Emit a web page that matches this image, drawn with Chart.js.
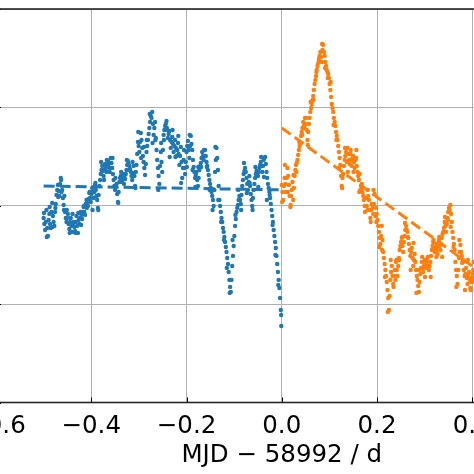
<!DOCTYPE html>
<html>
<head>
<meta charset="utf-8">
<script src="https://cdn.jsdelivr.net/npm/chart.js@4.4.1/dist/chart.umd.min.js"></script>
<style>
html,body{margin:0;padding:0;background:#fff;overflow:hidden;width:474px;height:474px;}
#wrap{position:absolute;left:-104px;top:0;width:700px;height:474px;}
</style>
</head>
<body>
<div id="wrap"><canvas id="c" width="700" height="474" style="width:700px;height:474px"></canvas></div>
<script>
// ---- data (time in MJD - 58992 [d], flux in arbitrary units) ----
const xTicks = [-0.6, -0.4, -0.2, 0.0, 0.2, 0.4, 0.6];
const yTicks = [0, 100, 200, 300, 400];
const xLabel = 'MJD − 58992 / d';

// blue light curve (before t = 0), exposures A
const blueT = [
-0.500,-0.497,-0.494,-0.491,-0.488,-0.485,-0.482,-0.479,-0.476,-0.473,
-0.470,-0.467,-0.464,-0.461,-0.458,-0.455,-0.452,-0.449,-0.446,-0.443,
-0.440,-0.437,-0.434,-0.431,-0.428,-0.425,-0.422,-0.419,-0.416,-0.413,
-0.410,-0.407,-0.404,-0.401,-0.398,-0.395,-0.392,-0.389,-0.386,-0.383,
-0.380,-0.377,-0.374,-0.371,-0.368,-0.365,-0.362,-0.359,-0.356,-0.353,
-0.350,-0.347,-0.344,-0.341,-0.338,-0.335,-0.332,-0.329,-0.326,-0.323,
-0.320,-0.317,-0.314,-0.311,-0.308,-0.305,-0.302,-0.299,-0.296,-0.293,
-0.290,-0.287,-0.284,-0.281,-0.278,-0.275,-0.272,-0.269,-0.266,-0.263,
-0.260,-0.257,-0.254,-0.251,-0.248,-0.245,-0.242,-0.239,-0.236,-0.233,
-0.230,-0.227,-0.224,-0.221,-0.218,-0.215,-0.212,-0.209,-0.206,-0.203,
-0.200,-0.197,-0.194,-0.191,-0.188,-0.185,-0.182,-0.179,-0.176,-0.173,
-0.170,-0.167,-0.164,-0.161,-0.158,-0.155,-0.152,-0.149,-0.146,-0.143,
-0.140,-0.137,-0.134,-0.131,-0.128,-0.125,-0.122,-0.119,-0.116,-0.113,
-0.110,-0.107,-0.104,-0.101,-0.098,-0.095,-0.092,-0.089,-0.086,-0.083,
-0.080,-0.077,-0.074,-0.071,-0.068,-0.065,-0.062,-0.059,-0.056,-0.053,
-0.050,-0.047,-0.044,-0.041,-0.038,-0.035,-0.032,-0.029,-0.026,-0.023,
-0.020,-0.017,-0.014,-0.011,-0.008,-0.005,-0.002,-0.001];
const blueFlux = [
187.6,175.4,195.7,169.3,191.7,177.4,202.9,183.5,193.7,211.0,
221.1,210.0,228.3,216.1,200.8,193.7,183.5,191.7,176.4,187.6,
173.4,183.5,174.4,189.6,172.4,181.5,193.7,186.6,198.8,190.7,
205.9,199.8,213.0,203.9,218.1,207.9,221.1,210.0,197.8,220.1,
232.3,240.5,230.3,242.5,234.4,245.5,238.4,248.6,238.4,226.2,
216.1,222.2,203.9,224.2,230.3,224.2,232.3,227.2,236.4,245.5,
240.5,234.4,226.2,240.5,220.1,241.5,264.9,254.7,274.0,258.8,
244.5,231.3,254.7,266.9,279.1,291.3,295.4,272.0,285.2,256.7,
238.4,222.2,254.7,234.4,272.0,281.1,286.2,268.9,276.0,258.8,
269.9,254.7,266.9,250.6,263.8,241.5,259.8,228.3,246.6,232.3,
254.7,265.9,248.6,271.0,256.7,239.4,228.3,234.4,220.1,236.4,
243.5,254.7,246.6,256.7,244.5,236.4,226.2,218.1,210.0,199.8,
234.4,258.8,236.4,205.9,193.7,183.5,173.4,163.2,153.0,140.8,
124.6,112.4,138.8,159.1,179.5,193.7,200.8,210.0,201.8,220.1,
232.3,238.4,228.3,216.1,230.3,212.0,199.8,216.1,228.3,235.4,
230.3,238.4,244.5,234.4,246.6,249.6,234.4,222.2,214.0,201.8,
189.6,175.4,163.2,149.0,132.7,116.4,94.1,77.8];

// blue light curve, interleaved exposures B
const blueT2 = [
-0.4985,-0.4955,-0.4925,-0.4895,-0.4865,-0.4835,-0.4805,-0.4775,-0.4745,-0.4715,
-0.4685,-0.4655,-0.4625,-0.4595,-0.4565,-0.4535,-0.4505,-0.4475,-0.4445,-0.4415,
-0.4385,-0.4355,-0.4325,-0.4295,-0.4265,-0.4235,-0.4205,-0.4175,-0.4145,-0.4115,
-0.4085,-0.4055,-0.4025,-0.3995,-0.3965,-0.3935,-0.3905,-0.3875,-0.3845,-0.3815,
-0.3785,-0.3755,-0.3725,-0.3695,-0.3665,-0.3635,-0.3605,-0.3575,-0.3545,-0.3515,
-0.3485,-0.3455,-0.3425,-0.3395,-0.3365,-0.3335,-0.3305,-0.3275,-0.3245,-0.3215,
-0.3185,-0.3155,-0.3125,-0.3095,-0.3065,-0.3035,-0.3005,-0.2975,-0.2945,-0.2915,
-0.2885,-0.2855,-0.2825,-0.2795,-0.2765,-0.2735,-0.2705,-0.2675,-0.2645,-0.2615,
-0.2585,-0.2555,-0.2525,-0.2495,-0.2465,-0.2435,-0.2405,-0.2375,-0.2345,-0.2315,
-0.2285,-0.2255,-0.2225,-0.2195,-0.2165,-0.2135,-0.2105,-0.2075,-0.2045,-0.2015,
-0.1985,-0.1955,-0.1925,-0.1895,-0.1865,-0.1835,-0.1805,-0.1775,-0.1745,-0.1715,
-0.1685,-0.1655,-0.1625,-0.1595,-0.1565,-0.1535,-0.1505,-0.1475,-0.1445,-0.1415,
-0.1385,-0.1355,-0.1325,-0.1295,-0.1265,-0.1235,-0.1205,-0.1175,-0.1145,-0.1115,
-0.1085,-0.1055,-0.1025,-0.0995,-0.0965,-0.0935,-0.0905,-0.0875,-0.0845,-0.0815,
-0.0785,-0.0755,-0.0725,-0.0695,-0.0665,-0.0635,-0.0605,-0.0575,-0.0545,-0.0515,
-0.0485,-0.0455,-0.0425,-0.0395,-0.0365,-0.0335,-0.0305,-0.0275,-0.0245,-0.0215,
-0.0185,-0.0155,-0.0125,-0.0095,-0.0065,-0.0035];
const blueFlux2 = [
181.5,183.5,177.4,185.6,181.5,193.7,189.6,179.5,201.8,216.1,
215.0,222.2,214.0,207.9,210.0,187.6,187.6,181.5,183.5,179.5,
181.5,178.5,183.5,179.5,185.6,187.6,190.7,193.7,193.7,201.8,
202.9,206.9,207.9,212.0,214.0,214.0,216.1,205.9,211.0,226.2,
236.4,235.4,236.4,238.4,240.5,242.5,243.5,243.5,232.3,220.1,
219.1,212.0,214.0,228.3,227.2,228.3,230.3,232.3,241.5,242.5,
237.4,230.3,233.3,230.3,234.4,252.7,260.8,264.9,266.9,250.6,
238.4,242.5,260.8,273.0,285.2,289.3,283.2,279.1,268.9,246.6,
230.3,240.5,244.5,256.7,277.0,283.2,277.0,273.0,266.9,264.9,
262.8,260.8,258.8,256.7,252.7,250.6,244.5,238.4,238.4,244.5,
260.8,256.7,260.8,262.8,246.6,234.4,231.3,226.2,228.3,240.5,
248.6,250.6,250.6,250.6,240.5,231.3,222.2,214.0,205.9,216.1,
246.6,248.6,220.1,199.8,187.6,177.4,168.3,158.1,146.9,132.7,
117.5,124.6,149.0,169.3,186.6,197.8,205.9,205.9,211.0,226.2,
235.4,234.4,222.2,224.2,220.1,205.9,207.9,222.2,232.3,232.3,
234.4,241.5,240.5,240.5,248.6,242.5,228.3,218.1,207.9,195.7,
183.5,169.3,157.1,140.8,124.6,106.3];

// blue light curve, exposures C
const blueT3 = [
-0.4993,-0.4933,-0.4873,-0.4813,-0.4753,-0.4693,-0.4633,-0.4573,-0.4513,-0.4453,
-0.4393,-0.4333,-0.4273,-0.4213,-0.4153,-0.4093,-0.4033,-0.3973,-0.3913,-0.3853,
-0.3793,-0.3733,-0.3673,-0.3613,-0.3553,-0.3493,-0.3433,-0.3373,-0.3313,-0.3253,
-0.3193,-0.3133,-0.3073,-0.3013,-0.2953,-0.2893,-0.2833,-0.2773,-0.2713,-0.2653,
-0.2593,-0.2533,-0.2473,-0.2413,-0.2353,-0.2293,-0.2233,-0.2173,-0.2113,-0.2053,
-0.1993,-0.1933,-0.1873,-0.1813,-0.1753,-0.1693,-0.1633,-0.1573,-0.1513,-0.1453,
-0.1393,-0.1333,-0.1273,-0.1213,-0.1153,-0.1093,-0.1033,-0.0973,-0.0913,-0.0853,
-0.0793,-0.0733,-0.0673,-0.0613,-0.0553,-0.0493,-0.0433,-0.0373,-0.0313,-0.0253,
-0.0193,-0.0133,-0.0073,-0.0013];
const blueFlux3 = [
192.7,168.3,198.8,178.5,197.8,208.9,226.2,195.7,195.7,172.4,
191.7,172.4,192.7,180.5,199.8,197.8,214.0,195.7,223.2,195.7,
244.5,226.2,246.6,234.4,248.6,228.3,202.9,234.4,222.2,246.6,
236.4,244.5,218.1,275.0,248.6,259.8,266.9,293.3,263.8,266.9,
216.1,263.8,266.9,279.1,249.6,277.0,249.6,271.0,223.2,256.7,
239.4,272.0,236.4,219.1,239.4,239.4,256.7,239.4,216.1,195.7,
259.8,205.9,183.5,165.2,136.8,111.4,165.2,190.7,216.1,195.7,
243.5,213.0,223.2,195.7,239.4,219.1,249.6,229.3,205.9,211.0,
180.5,150.0,119.5,89.0];

// orange light curve (after t = 0), exposures A
const orangeT = [
0.000,0.003,0.006,0.009,0.012,0.015,0.018,0.021,0.024,0.027,
0.030,0.033,0.036,0.039,0.042,0.045,0.048,0.051,0.054,0.057,
0.060,0.063,0.066,0.069,0.072,0.075,0.078,0.081,0.084,0.087,
0.090,0.093,0.096,0.099,0.102,0.105,0.108,0.111,0.114,0.117,
0.120,0.123,0.126,0.129,0.132,0.135,0.138,0.141,0.144,0.147,
0.150,0.153,0.156,0.159,0.162,0.165,0.168,0.171,0.174,0.177,
0.180,0.183,0.186,0.189,0.192,0.195,0.198,0.201,0.204,0.207,
0.210,0.213,0.216,0.219,0.222,0.225,0.228,0.231,0.234,0.237,
0.240,0.243,0.246,0.249,0.252,0.255,0.258,0.261,0.264,0.267,
0.270,0.273,0.276,0.279,0.282,0.285,0.288,0.291,0.294,0.297,
0.300,0.303,0.306,0.309,0.312,0.315,0.318,0.321,0.324,0.327,
0.330,0.333,0.336,0.339,0.342,0.345,0.348,0.351,0.354,0.357,
0.360,0.363,0.366,0.369,0.372,0.375,0.378,0.381,0.384,0.387,
0.390,0.393,0.396,0.399,0.402,0.405,0.408,0.411,0.414,0.417,0.420];
const orangeFlux = [
221.1,205.9,228.3,214.0,238.4,221.1,198.8,216.1,205.9,230.3,
241.5,246.6,256.7,263.8,275.0,285.2,279.1,289.3,266.9,283.2,
295.4,303.5,311.6,323.8,331.9,342.1,348.2,356.3,346.2,363.5,
352.3,342.1,336.0,329.9,317.7,303.5,295.4,285.2,275.0,266.9,
254.7,241.5,220.1,232.3,246.6,254.7,258.8,246.6,252.7,240.5,
250.6,238.4,248.6,234.4,226.2,216.1,222.2,210.0,199.8,207.9,
195.7,205.9,187.6,201.8,191.7,212.0,197.8,185.6,173.4,161.2,
179.5,153.0,140.8,128.6,114.4,94.1,124.6,138.8,120.5,134.7,
142.9,128.6,146.9,159.1,167.3,153.0,169.3,179.5,173.4,161.2,
149.0,157.1,138.8,151.0,134.7,124.6,112.4,130.7,142.9,132.7,
144.9,136.8,146.9,134.7,142.9,155.0,163.2,153.0,161.2,151.0,
165.2,155.0,167.3,173.4,183.5,173.4,187.6,197.8,200.8,183.5,
167.3,155.0,134.7,120.5,146.9,160.2,149.0,142.9,128.6,136.8,
120.5,132.7,116.4,126.6,134.7,122.5,129.7,136.8,124.6,132.7,142.9];

// orange light curve, interleaved exposures B
const orangeT2 = [
0.0015,0.0045,0.0075,0.0105,0.0135,0.0165,0.0195,0.0225,0.0255,0.0285,
0.0315,0.0345,0.0375,0.0405,0.0435,0.0465,0.0495,0.0525,0.0555,0.0585,
0.0615,0.0645,0.0675,0.0705,0.0735,0.0765,0.0795,0.0825,0.0855,0.0885,
0.0915,0.0945,0.0975,0.1005,0.1035,0.1065,0.1095,0.1125,0.1155,0.1185,
0.1215,0.1245,0.1275,0.1305,0.1335,0.1365,0.1395,0.1425,0.1455,0.1485,
0.1515,0.1545,0.1575,0.1605,0.1635,0.1665,0.1695,0.1725,0.1755,0.1785,
0.1815,0.1845,0.1875,0.1905,0.1935,0.1965,0.1995,0.2025,0.2055,0.2085,
0.2115,0.2145,0.2175,0.2205,0.2235,0.2265,0.2295,0.2325,0.2355,0.2385,
0.2415,0.2445,0.2475,0.2505,0.2535,0.2565,0.2595,0.2625,0.2655,0.2685,
0.2715,0.2745,0.2775,0.2805,0.2835,0.2865,0.2895,0.2925,0.2955,0.2985,
0.3015,0.3045,0.3075,0.3105,0.3135,0.3165,0.3195,0.3225,0.3255,0.3285,
0.3315,0.3345,0.3375,0.3405,0.3435,0.3465,0.3495,0.3525,0.3555,0.3585,
0.3615,0.3645,0.3675,0.3705,0.3735,0.3765,0.3795,0.3825,0.3855,0.3885,
0.3915,0.3945,0.3975,0.4005,0.4035,0.4065,0.4095,0.4125,0.4155,0.4185];
const orangeFlux2 = [
214.0,220.1,222.2,228.3,230.3,210.0,210.0,224.2,218.1,236.4,
243.5,251.6,260.8,271.0,279.1,281.1,283.2,277.0,275.0,289.3,
299.4,307.5,317.7,327.8,338.0,345.2,352.3,351.3,358.4,356.3,
346.2,338.0,334.0,323.8,310.6,299.4,289.3,281.1,271.0,260.8,
248.6,230.3,228.3,240.5,250.6,244.5,252.7,242.5,246.6,248.6,
244.5,246.6,240.5,230.3,232.3,220.1,214.0,205.9,207.9,199.8,
210.0,195.7,195.7,197.8,201.8,189.6,191.7,179.5,167.3,169.3,
165.2,146.9,134.7,122.5,106.3,108.3,132.7,128.6,128.6,124.6,
134.7,138.8,155.0,163.2,159.1,163.2,175.4,175.4,167.3,155.0,
153.0,146.9,144.9,142.9,128.6,118.5,122.5,136.8,136.8,138.8,
140.8,142.9,138.8,138.8,149.0,159.1,157.1,157.1,155.0,159.1,
159.1,161.2,171.3,177.4,179.5,181.5,193.7,195.7,191.7,173.4,
161.2,142.9,128.6,134.7,153.0,153.0,144.9,134.7,130.7,126.6,
128.6,124.6,122.5,130.7,126.6,126.6,132.7,130.7,128.6,138.8];

// orange light curve, exposures C
const orangeT3 = [
0.0007,0.0067,0.0127,0.0187,0.0247,0.0307,0.0367,0.0427,0.0487,0.0547,
0.0607,0.0667,0.0727,0.0787,0.0847,0.0907,0.0967,0.1027,0.1087,0.1147,
0.1207,0.1267,0.1327,0.1387,0.1447,0.1507,0.1567,0.1627,0.1687,0.1747,
0.1807,0.1867,0.1927,0.1987,0.2047,0.2107,0.2167,0.2227,0.2287,0.2347,
0.2407,0.2467,0.2527,0.2587,0.2647,0.2707,0.2767,0.2827,0.2887,0.2947,
0.3007,0.3067,0.3127,0.3187,0.3247,0.3307,0.3367,0.3427,0.3487,0.3547,
0.3607,0.3667,0.3727,0.3787,0.3847,0.3907,0.3967,0.4027,0.4087,0.4147,
0.4207];
const orangeFlux3 = [
203.9,241.5,214.0,200.8,231.3,234.4,264.9,272.0,289.3,261.8,
305.5,307.5,336.0,350.2,364.5,340.1,329.9,325.8,282.1,266.9,
238.4,218.1,258.8,234.4,256.7,234.4,256.7,214.0,218.1,193.7,
216.1,183.5,216.1,183.5,158.1,155.0,127.6,92.1,144.9,117.5,
144.9,144.9,168.3,182.5,168.3,134.7,162.2,111.4,134.7,148.0,
127.6,148.0,127.6,165.2,148.0,168.3,148.0,188.6,185.6,178.5,
158.1,117.5,165.2,141.9,114.4,144.9,114.4,142.9,119.5,140.8,
122.5];

// linear fits
const blueFitT = [-0.5, 0.0];
const blueFitFlux = [220.1, 216.1];
const orangeFitT = [0.0, 0.45];
const orangeFitFlux = [279.1, 120.9];

// ---- chart ----
const FONT = 'DejaVu Sans';
const BLUE = '#1f77b4', ORANGE = '#ff7f0e';
const pts = (t, f) => t.map((v, i) => ({x: v, y: f[i]}));
const fmt = v => { const s = (Math.abs(v) < 1e-9 ? 0 : v).toFixed(1); return s.replace('-', '\u2212'); };

const frame = {
  id: 'frame',
  afterDatasetsDraw(chart) {
    const {ctx, chartArea: a, scales} = chart;
    ctx.save();
    ctx.strokeStyle = '#000';
    ctx.lineWidth = 1;
    ctx.beginPath();
    xTicks.forEach(v => { const px = Math.round(scales.x.getPixelForValue(v)) + 0.5; ctx.moveTo(px, a.bottom); ctx.lineTo(px, a.bottom - 5); });
    yTicks.forEach(v => { const py = Math.round(scales.y.getPixelForValue(v)) + 0.5; ctx.moveTo(a.left, py); ctx.lineTo(a.left + 5, py); });
    ctx.stroke();
    ctx.strokeStyle = '#262626';
    ctx.lineWidth = 1.6;
    ctx.strokeRect(a.left, a.top, a.right - a.left, a.bottom - a.top);
    ctx.restore();
  }
};

new Chart(document.getElementById('c'), {
  type: 'scatter',
  data: {
    datasets: [
      {data: pts(blueFitT, blueFitFlux), showLine: true, borderColor: BLUE, borderWidth: 3, borderDash: [11, 5], pointRadius: 0, order: 0},
      {data: pts(orangeFitT, orangeFitFlux), showLine: true, borderColor: ORANGE, borderWidth: 3, borderDash: [11, 5], pointRadius: 0, order: 0},
      {data: pts(blueT, blueFlux).concat(pts(blueT2, blueFlux2), pts(blueT3, blueFlux3)), backgroundColor: BLUE, borderWidth: 0, pointRadius: 2.2, order: 1},
      {data: pts(orangeT, orangeFlux).concat(pts(orangeT2, orangeFlux2), pts(orangeT3, orangeFlux3)), backgroundColor: ORANGE, borderWidth: 0, pointRadius: 2.2, order: 1}
    ]
  },
  options: {
    responsive: false,
    maintainAspectRatio: false,
    devicePixelRatio: 1,
    animation: false,
    layout: {padding: {left: 0, right: 24, top: 9, bottom: 0}},
    plugins: {legend: {display: false}, tooltip: {enabled: false}},
    scales: {
      x: {
        type: 'linear', min: -0.6, max: 0.6,
        afterBuildTicks: s => { s.ticks = xTicks.map(v => ({value: v})); },
        afterFit: s => { s.height = 71.5; },
        grid: {color: '#b0b0b0', lineWidth: 1, drawTicks: false},
        border: {display: false},
        ticks: {font: {family: FONT, size: 24.5}, color: '#000', padding: 9, maxRotation: 0, autoSkip: false, callback: v => fmt(v)},
        title: {display: true, text: xLabel, font: {family: FONT, size: 24.5}, color: '#000', padding: {top: 0, bottom: 4}}
      },
      y: {
        type: 'linear', min: 0, max: 400,
        afterBuildTicks: s => { s.ticks = yTicks.map(v => ({value: v})); },
        afterFit: s => { s.width = 100; },
        grid: {color: '#b0b0b0', lineWidth: 1, drawTicks: false},
        border: {display: false},
        ticks: {display: false}
      }
    }
  },
  plugins: [frame]
});
</script>
</body>
</html>
